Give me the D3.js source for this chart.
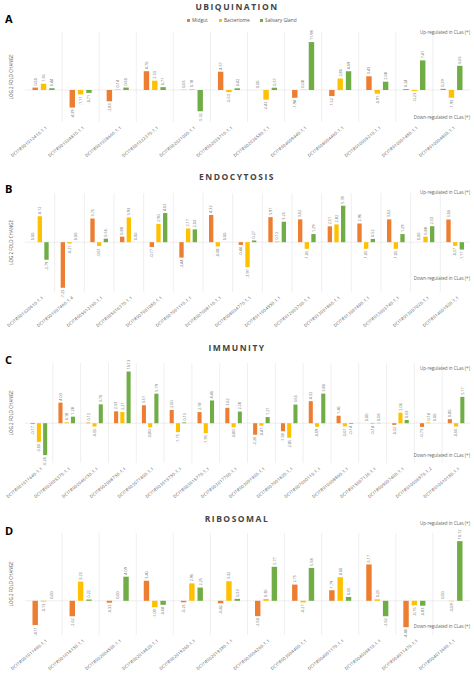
<!DOCTYPE html><html><head><meta charset="utf-8">
<script src="https://cdn.jsdelivr.net/npm/d3@7"></script>
<style>body{margin:0;background:#fff}text{font-family:"Open Sans",sans-serif}</style></head><body>
<svg id="c" width="474" height="683"></svg>
<script>
const series=["Midgut","Bacteriome","Salivary Gland"];
const colors=["#ED7D31","#FFC000","#70AD47"];
const catsA=["DCITR001012410.1.1","DCITR001024810.1.1","DCITR001038660.1.1","DCITR001022370.1.1","DCITR002021000.1.1","DCITR002035710.1.1","DCITR002036580.1.1","DCITR004009440.1.1","DCITR008004460.1.1","DCITR010005210.1.1","DCITR010001480.1.1","DCITR010004800.1.1"];
const valsA=[[0.60,1.56,0.44],[-4.39,-1.11,-0.71],[-2.83,0.14,0.60],[4.70,2.33,0.71],[0.05,0.18,-5.32],[4.57,-0.53,0.42],[0.00,-2.42,0.57],[-1.94,0.08,11.98],[-1.52,2.86,4.69],[3.43,-0.91,2.08],[0.24,-0.23,7.41],[0.29,-1.93,6.05]];
const catsB=["DCITR001020610.1.1","DCITR001007460.1.4","DCITR005012160.1.1","DCITR005016370.1.1","DCITR007001080.1.1","DCITR007001110.1.1","DCITR007008110.1.1","DCITR008004770.1.1","DCITR011004950.1.1","DCITR012003700.1.1","DCITR013001860.1.1","DCITR013001890.1.1","DCITR013003740.1.1","DCITR013007020.1.1","DCITR014001920.1.1"];
const valsB=[[0.00,4.12,-2.79],[-7.23,-0.21,0.00],[3.75,-0.61,0.56],[0.88,3.93,0.00],[-0.77,2.90,4.62],[-2.44,2.17,2.03],[4.32,-0.68,0.00],[-0.44,-3.97,0.27],[3.97,0.12,3.25],[3.62,-1.05,1.29],[2.51,2.82,5.78],[2.96,-1.05,0.52],[3.62,-1.05,1.29],[0.00,0.88,2.53],[3.60,-0.57,-1.17]];
const catsC=["DCITR001011640.1.1","DCITR002005370.1.1","DCITR002046150.1.1","DCITR002068750.1.1","DCITR003071800.1.1","DCITR003015750.1.1","DCITR003015770.1.1","DCITR003017700.1.1","DCITR003051900.1.1","DCITR007001820.1.1","DCITR007000110.1.1","DCITR010008860.1.1","DCITR015007130.1.1","DCITR009007400.1.1","DCITR010006970.1.2","DCITR010010180.1.1"];
const valsC=[[-0.17,-3.66,-6.26],[4.03,0.18,1.28],[0.12,-0.65,3.70],[2.33,2.21,10.13],[3.51,-0.80,5.79],[2.60,-1.75,0.15],[2.18,-1.95,4.46],[3.02,-0.80,2.28],[-2.26,-0.47,1.21],[-1.58,-2.85,3.65],[4.32,-0.69,5.80],[1.46,-0.61,-0.14],[0.00,-0.14,0.06],[-0.32,2.06,0.63],[-0.73,0.14,0.00],[0.80,-0.66,5.17]];
const catsD=["DCITR001011490.1.1","DCITR001018150.1.1","DCITR002004500.1.1","DCITR002014820.1.1","DCITR002019260.1.1","DCITR002019380.1.1","DCITR003004260.1.1","DCITR003004400.1.1","DCITR004001170.1.1","DCITR004005810.1.1","DCITR004011470.1.1","DCITR004013690.1.1"];
const valsD=[[-4.11,-0.13,0.00],[-2.62,3.25,0.22],[-0.32,0.00,4.09],[3.40,-1.09,-0.68],[-0.25,2.96,2.25],[-0.42,3.32,0.33],[-2.60,0.30,5.77],[2.75,-0.27,5.58],[1.79,4.00,0.65],[6.17,0.25,-2.62],[-4.48,-0.76,-0.83],[0.00,-0.09,10.12]];

const svg=d3.select("#c");
const panels=[
 {letter:"A",title:"UBIQUINATION",cats:catsA,vals:valsA,titleY:10,top:32,bottom:122,dom:[-8,14.5],legend:true,upY:34,downY:119},
 {letter:"B",title:"ENDOCYTOSIS",cats:catsB,vals:valsB,titleY:180,top:193,bottom:292,dom:[-7.9,7.8],upY:194,downY:280},
 {letter:"C",title:"IMMUNITY",cats:catsC,vals:valsC,titleY:351,top:363,bottom:463,dom:[-7.8,11.8],upY:370,downY:457},
 {letter:"D",title:"RIBOSOMAL",cats:catsD,vals:valsD,titleY:522,top:533,bottom:635,dom:[-5.8,11.5],upY:525,downY:628}
];
const X0=25,X1=470;
panels.forEach(p=>{
  const g=svg.append("g");
  g.append("text").attr("x",237).attr("y",p.titleY).attr("text-anchor","middle").attr("font-size",8.5).attr("font-weight","bold").attr("letter-spacing",1.5).attr("fill","#444").text(p.title);
  g.append("text").attr("x",5).attr("y",p.titleY+13).attr("font-size",11).attr("font-weight","bold").attr("font-family","Arial,Liberation Sans").text(p.letter);
  const y=d3.scaleLinear().domain(p.dom).range([p.bottom,p.top]);
  const x=d3.scaleBand().domain(p.cats).range([X0,X1]);
  const xs=d3.scaleBand().domain(series).range([0,x.bandwidth()]).paddingInner(0.35).paddingOuter(0.9);
  // grid lines
  g.selectAll(".v").data(p.cats.slice(1)).join("line").attr("x1",d=>x(d)).attr("x2",d=>x(d)).attr("y1",p.top).attr("y2",p.bottom).attr("stroke","#e4e4e4").attr("stroke-width",0.6);
  g.append("line").attr("x1",X0).attr("x2",X1).attr("y1",y(0)).attr("y2",y(0)).attr("stroke","#e0e0e0").attr("stroke-width",0.6);
  g.append("text").attr("transform",`translate(13,${(p.top+p.bottom)/2}) rotate(-90)`).attr("text-anchor","middle").attr("font-size",4.5).attr("fill","#555").text("LOG 2 FOLD CHANGE");
  g.append("text").attr("x",X1).attr("y",p.upY).attr("text-anchor","end").attr("font-size",4.5).attr("fill","#666").text("Up-regulated in CLas (+)");
  g.append("text").attr("x",X1).attr("y",p.downY).attr("text-anchor","end").attr("font-size",4.5).attr("fill","#666").text("Down-regulated in CLas (+)");
  p.cats.forEach((c,i)=>{
    const gg=g.append("g").attr("transform",`translate(${x(c)},0)`);
    const d=p.vals[i].map((v,k)=>({v,k}));
    gg.selectAll("rect").data(d).join("rect").attr("x",e=>xs(series[e.k])).attr("width",xs.bandwidth())
      .attr("y",e=>y(Math.max(0,e.v))).attr("height",e=>Math.abs(y(e.v)-y(0))).attr("fill",e=>colors[e.k]);
    gg.selectAll("text").data(d).join("text").attr("font-size",3.8).attr("fill","#666")
      .attr("transform",e=>{const cx=xs(series[e.k])+xs.bandwidth()/2+1.3;const yy=e.v>=0?y(e.v)-2:y(e.v)+2;return `translate(${cx},${yy}) rotate(-90)`;})
      .attr("text-anchor",e=>e.v>=0?"start":"end").text(e=>e.v.toFixed(2));
    g.append("text").attr("transform",`translate(${x(c)+x.bandwidth()/2+4},${p.bottom+6}) rotate(-40)`).attr("text-anchor","end").attr("font-size",4.2).attr("fill","#555").attr("letter-spacing",0.3).text(c);
  });
  if(p.legend){
    const lg=g.append("g").attr("transform","translate(187,22)");
    const offs=[0,32,73];
    series.forEach((s,k)=>{
      lg.append("rect").attr("x",offs[k]).attr("y",-3).attr("width",3).attr("height",3).attr("fill",colors[k]);
      lg.append("text").attr("x",offs[k]+5).attr("y",0).attr("font-size",4.8).attr("fill","#555").text(s);
    });
  }
});
</script></body></html>
